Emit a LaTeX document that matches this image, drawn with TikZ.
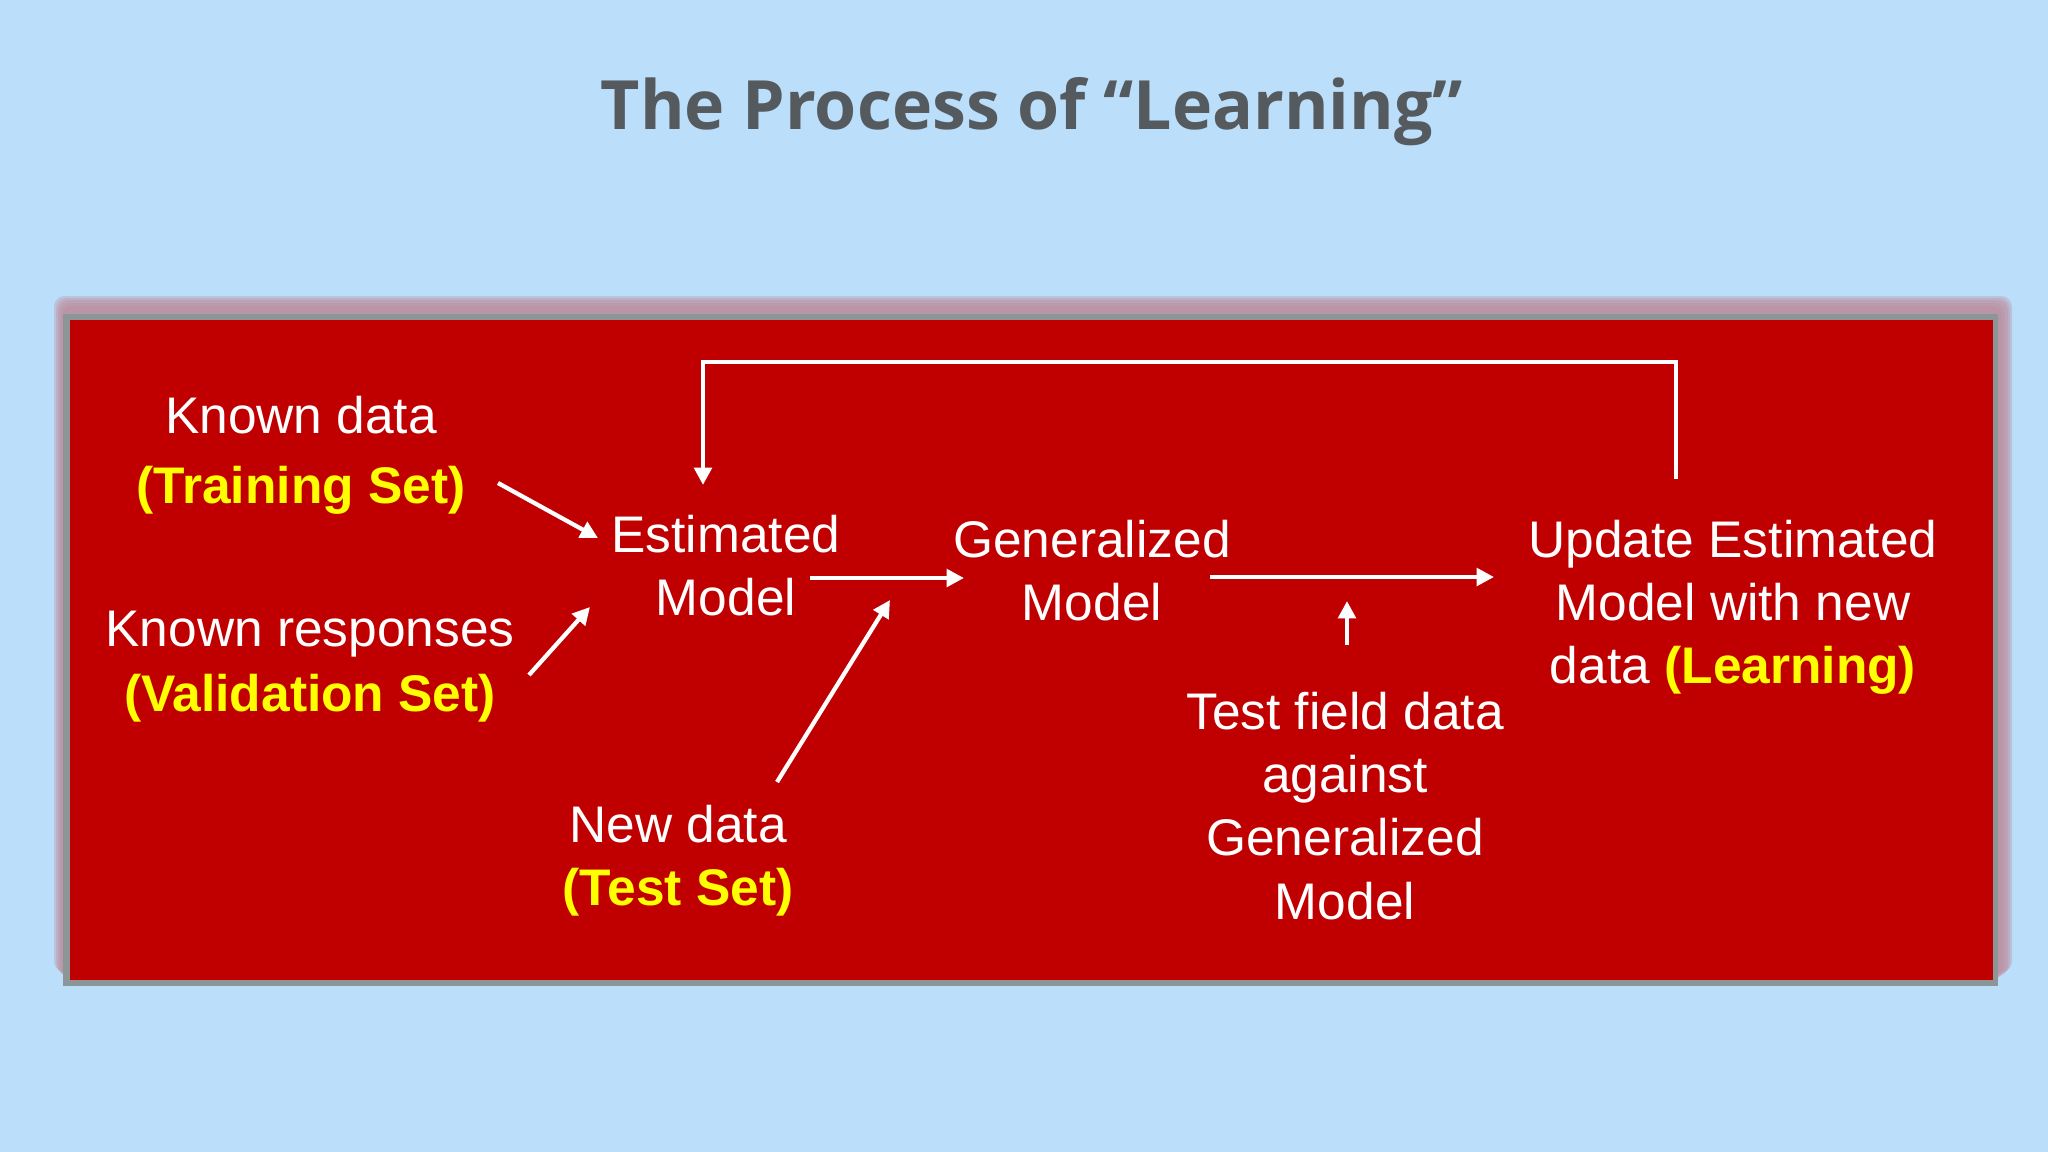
\documentclass[tikz,border=0pt]{standalone}
\usepackage{fontspec}
\setmainfont{Liberation Sans}
\newfontfamily\titlefont{Open Sans}
\usetikzlibrary{arrows.meta}
\definecolor{bgblue}{RGB}{187,222,251}
\definecolor{boxred}{RGB}{192,0,0}
\definecolor{titlegray}{RGB}{85,90,95}
\definecolor{hiyellow}{RGB}{255,255,0}
\definecolor{glowpink}{RGB}{190,135,150}
\definecolor{edgegray}{RGB}{140,150,150}
\newcommand{\hlt}[1]{\textcolor{hiyellow}{\bfseries #1}}
\begin{document}
\begin{tikzpicture}[x=0.75pt,y=-0.75pt,
  lbl/.style={text=white, align=center, inner sep=0pt,
    font=\fontsize{38.6pt}{47.3pt}\selectfont},
  arr/.style={white, line width=3.2pt, line join=miter,
    -{Triangle[length=13pt,width=13pt]}},
  glow/.style={fill=glowpink, fill opacity=0.3, rounded corners=8pt}
]
\fill[bgblue] (0,0) rectangle (2048,1152);
\useasboundingbox (0,0) rectangle (2048,1152);
% box with soft glow and border
\fill[glow] (54,296) rectangle (2012,972);
\fill[glow] (56,298) rectangle (2010,974);
\fill[glow] (58,300) rectangle (2008,976);
\fill[glow] (60,303) rectangle (2005,978);
\fill[glow] (62,306) rectangle (2002,980);
\fill[edgegray] (63,314) rectangle (1998,986);
\fill[boxred] (70,320) rectangle (1993,980);
% title
\node[font=\titlefont\bfseries\fontsize{51pt}{60pt}\selectfont, text=titlegray] (title) at (1032,112) {The Process of “Learning”};
% labels
\node[lbl] (known) at (301,455) {Known data\\[5pt]\hlt{(Training Set)}};
\node[lbl] (resp) at (310,667) {Known responses\\[1.5pt]\hlt{(Validation Set)}};
\node[lbl] (est) at (726,566) {Estimated\\Model};
\node[lbl] (gen) at (1092,571) {Generalized\\Model};
\node[lbl] (upd) at (1733,607) {Update Estimated\\Model with new\\data \hlt{(Learning)}};
\node[lbl] (test) at (1345,806) {Test field data\\against\\Generalized\\Model};
\node[lbl] (new) at (678,861) {New data\\\hlt{(Test Set)}};
% arrow ends
\coordinate (a1s) at (498,483); \coordinate (a1e) at (598,538);
\coordinate (a2s) at (529,675); \coordinate (a2e) at (590,607);
\coordinate (a3s) at (810,578); \coordinate (a3e) at (964,578);
\coordinate (a4s) at (777,782); \coordinate (a4e) at (890,600);
\coordinate (a5s) at (1210,577); \coordinate (a5e) at (1494,577);
\coordinate (a6s) at (1347,645); \coordinate (a6e) at (1347,601);
\coordinate (l1) at (1676,479); \coordinate (l2) at (1676,362);
\coordinate (l3) at (703,362); \coordinate (l4) at (703,485);
\draw[arr] (a1s) -- (a1e);
\draw[arr] (a2s) -- (a2e);
\draw[arr] (a3s) -- (a3e);
\draw[arr] (a4s) -- (a4e);
\draw[arr] (a5s) -- (a5e);
\draw[arr] (a6s) -- (a6e);
\draw[arr] (l1) -- (l2) -- (l3) -- (l4);
\end{tikzpicture}
\end{document}
